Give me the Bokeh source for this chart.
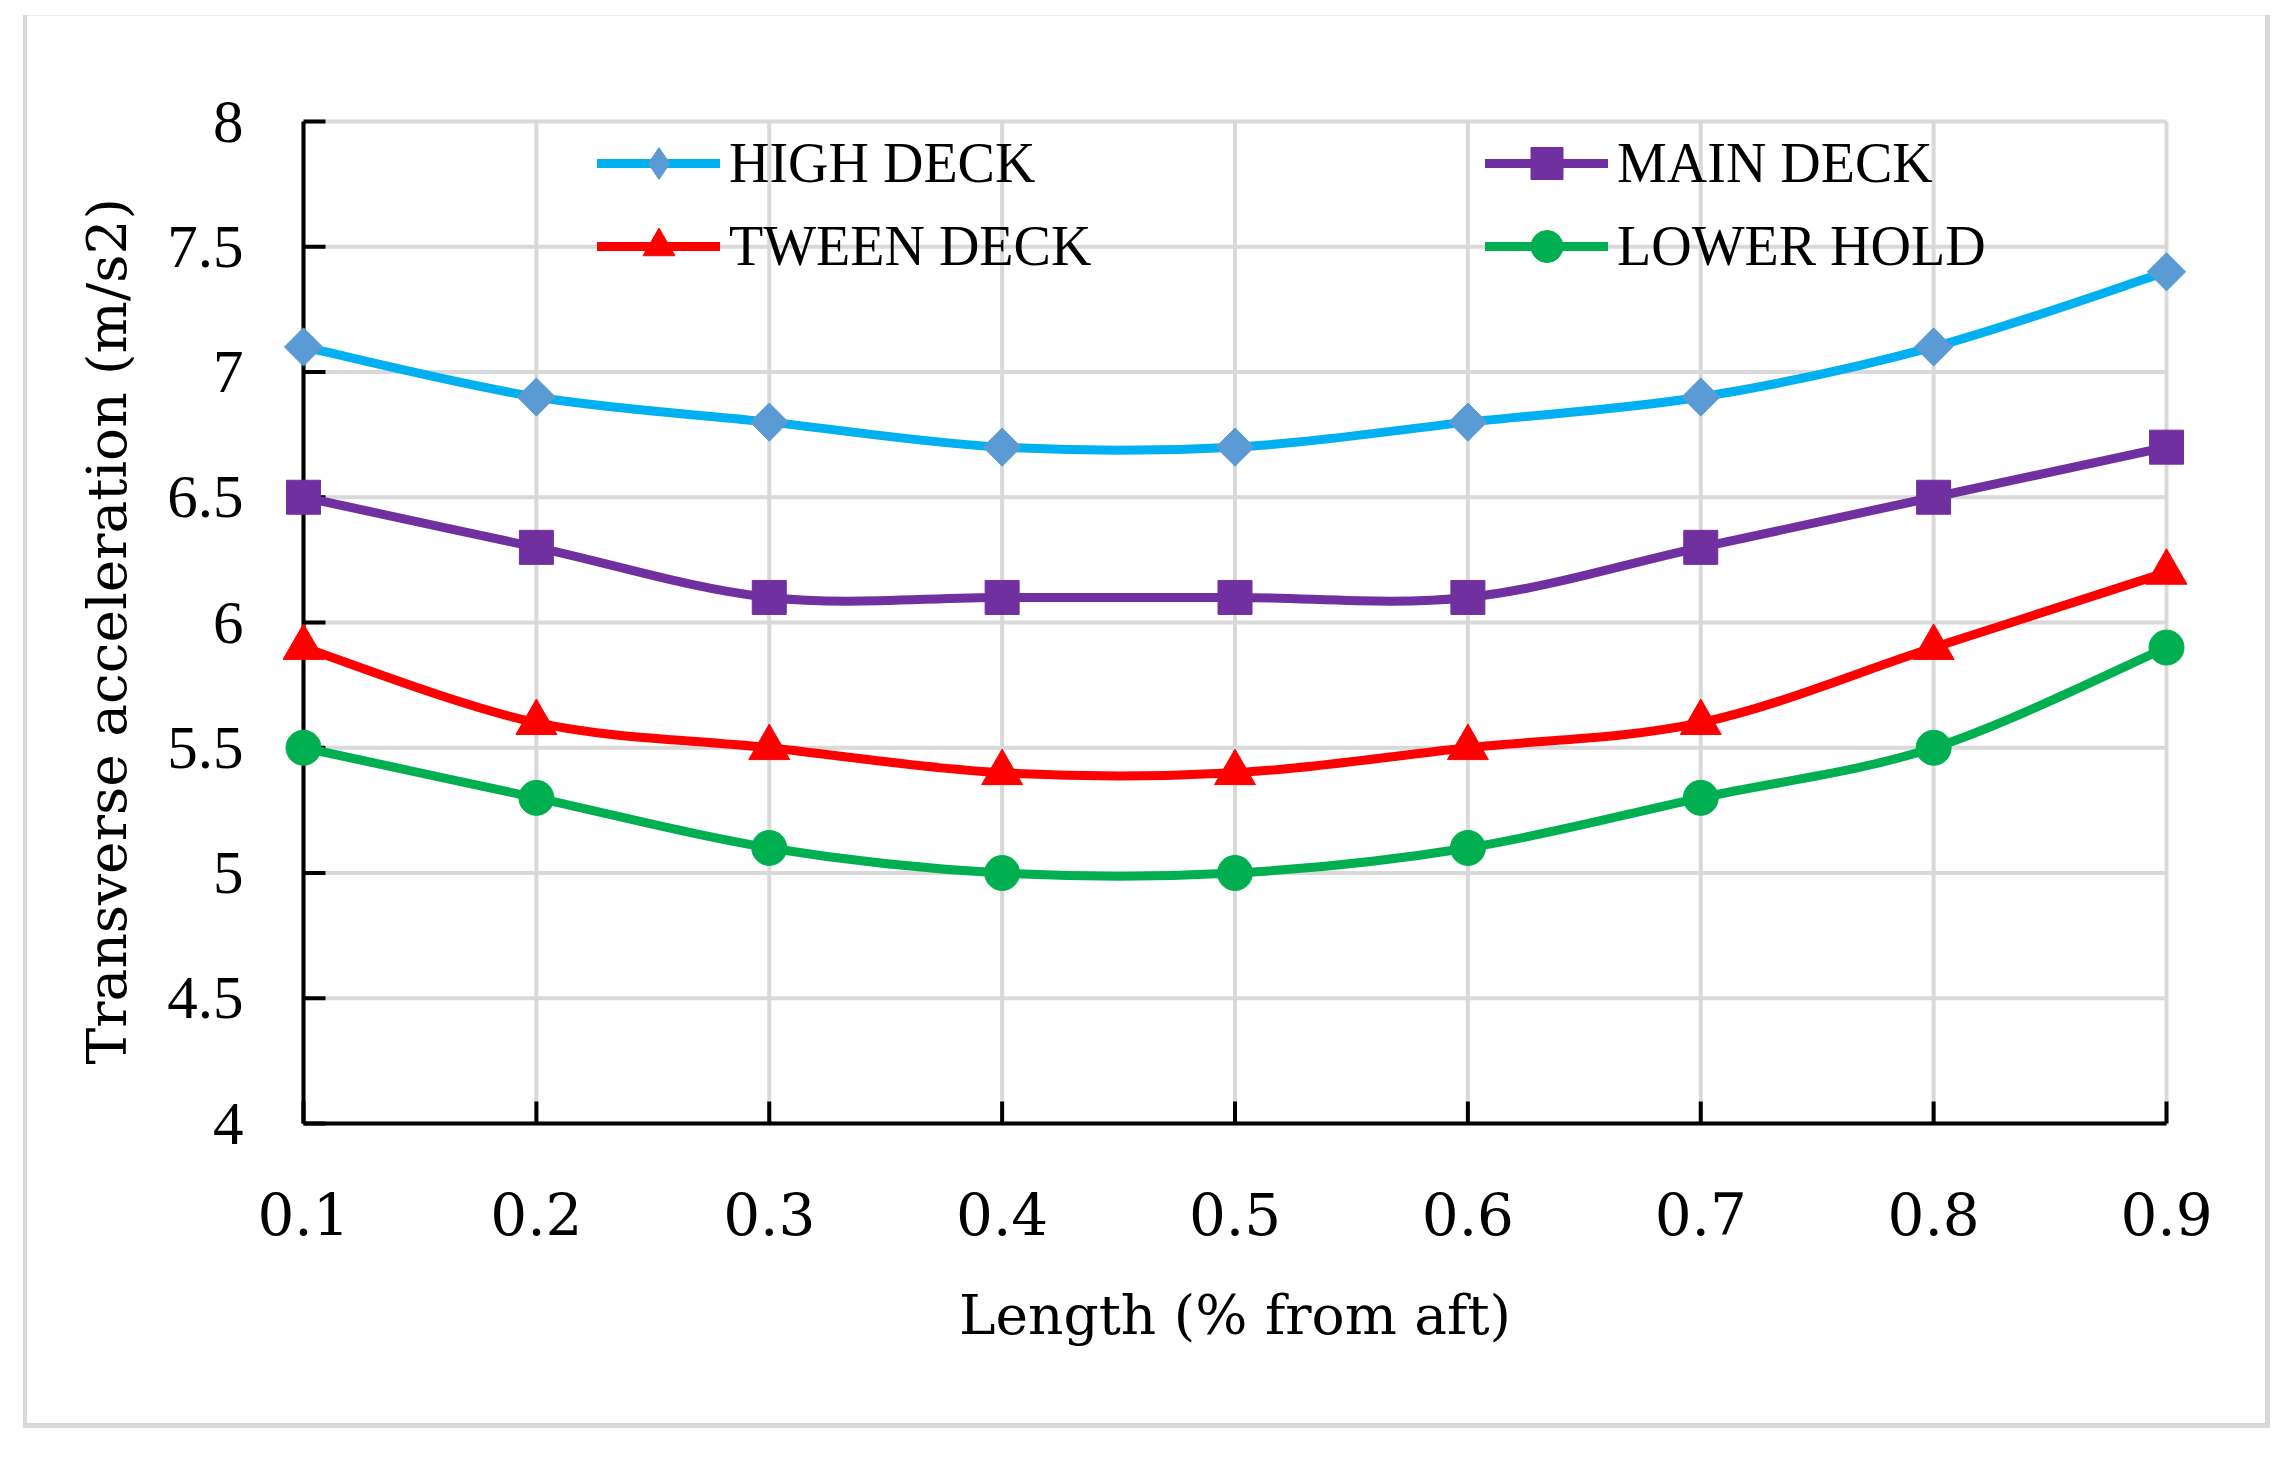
import math
from bokeh.plotting import figure
from bokeh.models import (Range1d, FixedTicker, NumeralTickFormatter, Legend,
                          LegendItem)
from bokeh.embed import file_html
from bokeh.resources import INLINE

# data
x = [0.1, 0.2, 0.3, 0.4, 0.5, 0.6, 0.7, 0.8, 0.9]
high_deck = [7.1, 6.9, 6.8, 6.7, 6.7, 6.8, 6.9, 7.1, 7.4]
main_deck = [6.5, 6.3, 6.1, 6.1, 6.1, 6.1, 6.3, 6.5, 6.7]
tween_deck = [5.9, 5.6, 5.5, 5.4, 5.4, 5.5, 5.6, 5.9, 6.2]
lower_hold = [5.5, 5.3, 5.1, 5.0, 5.0, 5.1, 5.3, 5.5, 5.9]
x_ticks = [0.1, 0.2, 0.3, 0.4, 0.5, 0.6, 0.7, 0.8, 0.9]
y_ticks = [4, 4.5, 5, 5.5, 6, 6.5, 7, 7.5, 8]

FONT = "Liberation Serif"
FONT2 = "DejaVu Serif"
W, H = 2276, 1444
BL, BR, BT, BB = 279, 86, 97, 297
PAD = 24  # px of room round the axes so edge markers are not clipped
GRID = "#d9d9d9"

fw = W - BL - BR
fh = H - BT - BB
x0, x1 = x_ticks[0], x_ticks[-1]
y0, y1 = y_ticks[0], y_ticks[-1]
xpad = PAD * (x1 - x0) / (fw - 2 * PAD)
ypad = PAD * (y1 - y0) / (fh - 2 * PAD)

p = figure(width=W, height=H, output_backend="svg", toolbar_location=None,
           x_range=Range1d(x0 - xpad, x1 + xpad),
           y_range=Range1d(y0 - ypad, y1 + ypad),
           min_border_left=BL, min_border_right=BR,
           min_border_top=BT, min_border_bottom=BB,
           x_axis_label="Length (% from aft)",
           y_axis_label="Transverse acceleration  (m/s2)")
p.outline_line_color = None
p.border_fill_color = None
p.background_fill_color = "white"
p.xgrid.visible = False
p.ygrid.visible = False

# light grey frame round the whole chart (painted behind the transparent border area)
p.styles = {
    "background-color": "white",
    "background-image": ", ".join([f"linear-gradient({c}, {c})" for c in
                                   (GRID, GRID, GRID, "#f0f0f0")]),
    "background-size": "4px 1413px, 5px 1413px, 2247px 5px, 2247px 1px",
    "background-position": "23px 15px, 2265px 15px, 23px 1423px, 23px 15px",
    "background-repeat": "no-repeat",
}

# grid lines only inside the axes box
p.segment(x0=x_ticks, y0=y0, x1=x_ticks, y1=y1, line_color=GRID,
          line_width=4, level="underlay")
p.segment(x0=x0, y0=y_ticks, x1=x1, y1=y_ticks, line_color=GRID,
          line_width=4, level="underlay")

# axis lines and inward ticks
p.segment(x0=[x0, x0], y0=[y0, y0], x1=[x0, x1], y1=[y1, y0],
          line_color="black", line_width=4, level="guide")
p.ray(x=x0, y=y_ticks, length=22, length_units="screen", angle=0,
      line_color="black", line_width=4, level="guide")
p.ray(x=x_ticks, y=y0, length=22, length_units="screen", angle=math.pi / 2,
      line_color="black", line_width=4, level="guide")


def smooth(xs, ys):
    # Excel-like smoothed line: cubic bezier segments through the points
    n = len(xs)
    px = [xs[0]] + list(xs) + [xs[-1]]
    py = [ys[0]] + list(ys) + [ys[-1]]
    seg = dict(x0=[], y0=[], x1=[], y1=[], cx0=[], cy0=[], cx1=[], cy1=[])
    for i in range(1, n):
        seg["x0"].append(px[i]); seg["y0"].append(py[i])
        seg["x1"].append(px[i + 1]); seg["y1"].append(py[i + 1])
        seg["cx0"].append(px[i] + (px[i + 1] - px[i - 1]) / 6)
        seg["cy0"].append(py[i] + (py[i + 1] - py[i - 1]) / 6)
        seg["cx1"].append(px[i + 1] - (px[i + 2] - px[i]) / 6)
        seg["cy1"].append(py[i + 1] - (py[i + 2] - py[i]) / 6)
    return seg


# name, values, line colour, marker colour, marker, size, angle
series = [
    ("HIGH DECK", high_deck, "#00b0f0", "#5b9bd5", "square", 27, math.pi / 4),
    ("MAIN DECK", main_deck, "#7030a0", "#7030a0", "square", 34, 0),
    ("TWEEN DECK", tween_deck, "#ff0000", "#ff0000", "triangle", 41, 0),
    ("LOWER HOLD", lower_hold, "#00b050", "#00b050", "circle", 35, 0),
]

items = {}
for name, ys, lc, mc, marker, size, angle in series:
    lr = p.bezier(line_color=lc, line_width=9, line_cap="round",
                  level="annotation", **smooth(x, ys))
    mr = p.scatter(x, ys, marker=marker, size=size, angle=angle,
                   fill_color=mc, line_color=mc, level="overlay")
    if angle:
        # the legend does not rotate markers: a small diamond hidden under
        # the first point stands in for it there
        mr = p.scatter(x[:1], ys[:1], marker="diamond", size=12,
                       fill_color=mc, line_color=mc, level="glyph")
    items[name] = LegendItem(label=name, renderers=[lr, mr])

for axis in (p.xaxis, p.yaxis):
    axis.axis_line_color = None
    axis.major_tick_line_color = None
    axis.minor_tick_line_color = None
    axis.major_tick_in = 0
    axis.major_tick_out = 0
    axis.major_label_text_color = "black"
    axis.axis_label_text_font = FONT2
    axis.axis_label_text_font_size = "55px"
    axis.axis_label_text_font_style = "normal"
    axis.axis_label_text_color = "black"

p.xaxis.major_label_text_font = FONT2
p.xaxis.major_label_text_font_size = "58px"
p.yaxis.major_label_text_font = FONT
p.yaxis.major_label_text_font_size = "61px"

p.xaxis.ticker = FixedTicker(ticks=x_ticks)
p.yaxis.ticker = FixedTicker(ticks=y_ticks)
p.xaxis.formatter = NumeralTickFormatter(format="0.0")
p.yaxis.formatter = NumeralTickFormatter(format="0.[0]")
p.xaxis.major_label_standoff = 44
p.yaxis.major_label_standoff = 36
p.xaxis.axis_label_standoff = 45
p.yaxis.axis_label_standoff = 25

for names, vx in ((["HIGH DECK", "TWEEN DECK"], 318),
                  (["MAIN DECK", "LOWER HOLD"], 1206)):
    leg = Legend(items=[items[n] for n in names], location=(vx, fh - 26 - 163),
                 border_line_color=None, background_fill_alpha=0,
                 padding=0, margin=0, spacing=3,
                 glyph_width=123, glyph_height=80, label_height=80,
                 label_standoff=9, label_text_font=FONT,
                 label_text_font_size="56px", label_text_color="black")
    p.add_layout(leg)

open("out.html", "w").write(file_html(p, INLINE))
